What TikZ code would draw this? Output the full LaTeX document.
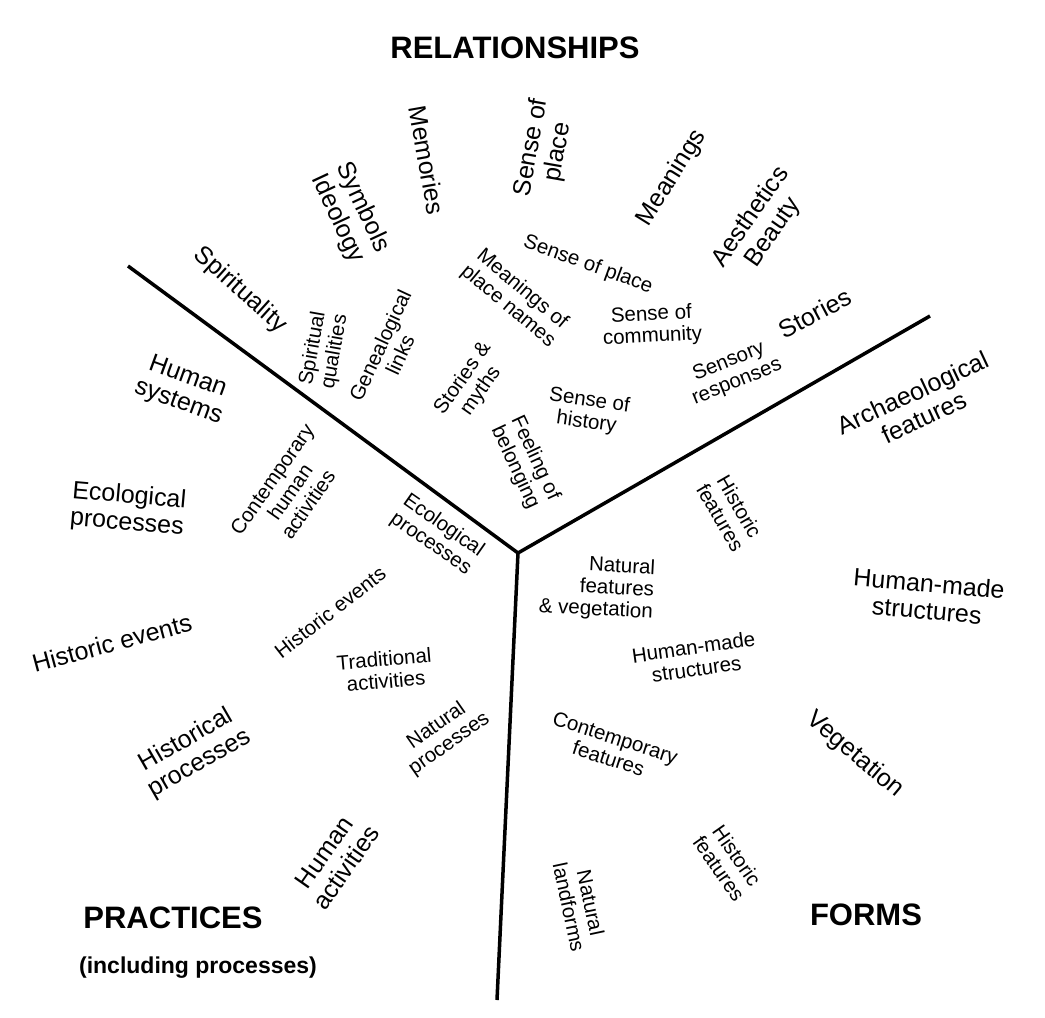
\documentclass[tikz,border=0pt]{standalone}
\usepackage{fontspec}
\setmainfont{Liberation Sans}
\begin{document}
\begin{tikzpicture}[x=1pt,y=-1pt,
  sm/.style={font=\fontsize{20.5}{22}\selectfont,align=center,inner sep=0pt},
  bg/.style={font=\fontsize{25}{27}\selectfont,align=center,inner sep=0pt},
  hd/.style={font=\fontsize{31}{34}\selectfont\bfseries,align=center,inner sep=0pt}]
\useasboundingbox (0,0) rectangle (1045,1018);
\coordinate (c) at (518,553);
\coordinate (ul) at (128,266);
\coordinate (ur) at (930,316);
\coordinate (dn) at (497,1000);
\draw[line width=3.5pt] (ul) -- (c) -- (ur);
\draw[line width=3.5pt] (c) -- (dn);
\node[hd] (t1) at (515,48) {RELATIONSHIPS};
\node[hd] (t2) at (173,918) {PRACTICES};
\node[font=\fontsize{23}{25}\selectfont\bfseries,inner sep=0pt] (t3) at (198,968) {(including processes)};
\node[hd] (t4) at (866,915) {FORMS};
% relationships outer
\node[bg,rotate=-42] (a1) at (240,290) {Spirituality};
\node[bg,rotate=-65] (a2) at (350,213) {Symbols\\Ideology};
\node[bg,rotate=-80] (a3) at (427,160) {Memories};
\node[bg,rotate=80] (a4) at (545,150) {Sense of\\place};
\node[bg,rotate=58] (a5) at (672,178) {Meanings};
\node[bg,rotate=55] (a6) at (762,225) {Aesthetics\\Beauty};
\node[bg,rotate=28] (a7) at (815,313) {Stories};
% relationships inner
\node[sm,rotate=-20] (b1) at (588,265) {Sense of place};
\node[sm,rotate=-40] (b2) at (515,298) {Meanings of\\place names};
\node[sm,rotate=3] (b3) at (652,326) {Sense of\\community};
\node[sm,rotate=22] (b4) at (733,372) {Sensory\\responses};
\node[sm,rotate=80] (b5) at (324,350) {Spiritual\\qualities};
\node[sm,rotate=65] (b6) at (390,350) {Genealogical\\links};
\node[sm,rotate=55] (b7) at (472,385) {Stories \&\\myths};
\node[sm,rotate=-65] (b8) at (525,463) {Feeling of\\belonging};
\node[sm,rotate=-8] (b9) at (588,412) {Sense of\\history};
% practices
\node[bg,rotate=-20] (p1) at (183,390) {Human\\systems};
\node[bg,rotate=-5] (p2) at (128,510) {Ecological\\processes};
\node[bg,rotate=15] (p3) at (112,643) {Historic events};
\node[bg,rotate=30] (p4) at (193,752) {Historical\\processes};
\node[bg,rotate=55] (p5) at (335,860) {Human\\activities};
\node[sm,rotate=55] (q1) at (290,492) {Contemporary\\human\\activities};
\node[sm,rotate=-35] (q2) at (437,535) {Ecological\\processes};
\node[sm,rotate=38] (q3) at (330,612) {Historic events};
\node[sm,rotate=5] (q4) at (385,670) {Traditional\\activities};
\node[sm,rotate=35] (q5) at (443,735) {Natural\\processes};
% forms
\node[bg,rotate=25] (f1) at (918,405) {Archaeological\\features};
\node[bg,rotate=-5] (f2) at (928,597) {Human-made\\structures};
\node[bg,rotate=-40] (f3) at (855,755) {Vegetation};
\node[sm,rotate=-3,align=right] (g1) at (597,588) {Natural\\features\\\& vegetation};
\node[sm,rotate=-60] (g2) at (730,512) {Historic\\features};
\node[sm,rotate=8] (g3) at (695,658) {Human-made\\structures};
\node[sm,rotate=-18] (g4) at (612,748) {Contemporary\\features};
\node[sm,rotate=-55] (g5) at (728,862) {Historic\\features};
\node[sm,rotate=-78] (g6) at (580,905) {Natural\\landforms};
\end{tikzpicture}
\end{document}
